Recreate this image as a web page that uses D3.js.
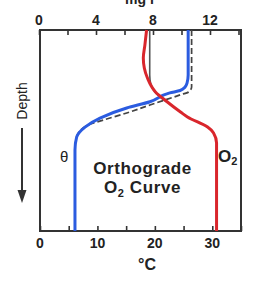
<!DOCTYPE html>
<html>
<head>
<meta charset="utf-8">
<script src="https://cdn.jsdelivr.net/npm/d3@7"></script>
<style>
  html, body { margin: 0; padding: 0; background: #fff; }
  svg { display: block; font-family: "Liberation Sans", Arial, Helvetica, sans-serif; }
</style>
</head>
<body>
<svg id="chart" width="262" height="282"></svg>
<script>
// ---- data ----
const tempTicks = [0, 10, 20, 30];
const o2Ticks = [0, 4, 8, 12];

// potential temperature θ (°C, bottom axis)
const tempDepth  = [0, 22.4, 26.4, 28.4, 30.1, 31.3, 35.7, 38.8, 43.8, 48.3, 53.2, 59.7, 100];
const tempValues = [25.8, 25.8, 25.6, 25.25, 24.4, 22.6, 19.15, 15.1, 10.45, 7.84, 6.39, 6.09, 6.09];

// dashed temperature profile (°C)
const dashDepth  = [0, 28.4, 30.8, 32.3, 37.3, 41.3, 44.8, 47.3, 50.2, 54.7, 59.7, 100];
const dashValues = [26.4, 26.4, 25.9, 24.4, 19.15, 15.1, 11.0, 8.36, 6.97, 6.27, 6.1, 6.1];

// dissolved O2 (mg l-1, top axis)
const o2Depth  = [0, 7.5, 13.9, 18.9, 23.9, 30.8, 35.8, 40.8, 43.3, 48.3, 51.2, 56.2, 100];
const o2Values = [7.55, 7.43, 7.32, 7.39, 7.61, 8.17, 9.01, 9.93, 10.42, 11.83, 12.25, 12.46, 12.46];

// thin saturation O2 line (mg l-1)
const satDepth  = [0, 22.4, 27, 31, 35, 36];
const satValues = [7.77, 7.77, 7.85, 8.15, 8.8, 9.0];

// ---- layout ----
const svg = d3.select("#chart");
const box = { left: 40, right: 241, top: 30, bottom: 231 };

const xTemp = d3.scaleLinear().domain([0, 35]).range([box.left, box.right]);
const xO2 = d3.scaleLinear().domain([0, 14]).range([39, 238.5]);
const yDepth = d3.scaleLinear().domain([0, 100]).range([box.top, box.bottom]);

const ink = "#333";

// frame
svg.append("rect")
  .attr("x", box.left).attr("y", box.top)
  .attr("width", box.right - box.left).attr("height", box.bottom - box.top)
  .attr("fill", "none").attr("stroke", ink).attr("stroke-width", 2);

// top axis (mg l-1), ticks inward
const topAxis = d3.axisTop(xO2).tickValues(d3.range(0, 15, 2)).tickSize(-5).tickFormat("");
const gTop = svg.append("g").attr("transform", `translate(0,${box.top})`).call(topAxis);
gTop.select(".domain").remove();
gTop.selectAll(".tick line").attr("stroke", ink).attr("stroke-width", 1.6);
svg.append("g").selectAll("text").data(o2Ticks).join("text")
  .attr("x", d => xO2(d)).attr("y", 25)
  .attr("text-anchor", "middle").attr("font-size", 14).attr("font-weight", "bold").attr("fill", "#222")
  .text(d => d);

// bottom axis (°C), ticks inward
const botAxis = d3.axisBottom(xTemp).tickValues(d3.range(0, 36, 5)).tickSize(-5).tickFormat("");
const gBot = svg.append("g").attr("transform", `translate(0,${box.bottom})`).call(botAxis);
gBot.select(".domain").remove();
gBot.selectAll(".tick line").attr("stroke", ink).attr("stroke-width", 1.6);
svg.append("g").selectAll("text").data(tempTicks).join("text")
  .attr("x", d => xTemp(d)).attr("y", 248)
  .attr("text-anchor", "middle").attr("font-size", 14).attr("font-weight", "bold").attr("fill", "#222")
  .text(d => d);

// axis titles
svg.append("text").attr("x", 147).attr("y", 270).attr("text-anchor", "middle")
  .attr("font-size", 16).attr("font-weight", "bold").attr("fill", "#222").text("°C");
const mg = svg.append("text").attr("x", 125).attr("y", 4)
  .attr("font-size", 14).attr("font-weight", "bold").attr("fill", "#222");
mg.append("tspan").text("mg l");
mg.append("tspan").attr("font-size", 9).attr("dy", -5).text("-1");

// Depth label + arrow
svg.append("text").attr("transform", "translate(27,101) rotate(-90)")
  .attr("text-anchor", "middle").attr("font-size", 14).attr("fill", "#222").text("Depth");
svg.append("line").attr("x1", 22).attr("x2", 22).attr("y1", 128).attr("y2", 195)
  .attr("stroke", ink).attr("stroke-width", 2);
svg.append("path").attr("d", "M17.5,190 L26.5,190 L22,203 Z").attr("fill", ink);

// lines
const line = (xs, dep, vals) => d3.line()
  .x((d, i) => xs(vals[i])).y((d, i) => yDepth(dep[i]))
  .curve(d3.curveMonotoneY)(dep);

svg.append("path").attr("d", line(xO2, satDepth, satValues))
  .attr("fill", "none").attr("stroke", "#555").attr("stroke-width", 1.6);
svg.append("path").attr("d", line(xTemp, dashDepth, dashValues))
  .attr("fill", "none").attr("stroke", "#444").attr("stroke-width", 1.7).attr("stroke-dasharray", "6,3");
svg.append("path").attr("d", line(xTemp, tempDepth, tempValues))
  .attr("fill", "none").attr("stroke", "#2b5ce0").attr("stroke-width", 3);
svg.append("path").attr("d", line(xO2, o2Depth, o2Values))
  .attr("fill", "none").attr("stroke", "#d9262c").attr("stroke-width", 3);

// annotations
svg.append("text").attr("x", 60).attr("y", 162).attr("font-size", 15).attr("fill", "#222").text("θ");
const o2lab = svg.append("text").attr("x", 218).attr("y", 162).attr("font-size", 17).attr("font-weight", "bold").attr("fill", "#222");
o2lab.append("tspan").text("O");
o2lab.append("tspan").attr("font-size", 11).attr("dy", 3).text("2");

svg.append("text").attr("x", 142.5).attr("y", 174).attr("text-anchor", "middle")
  .attr("font-size", 17).attr("font-weight", "bold").attr("letter-spacing", 0.6).attr("fill", "#222").text("Orthograde");
const c2 = svg.append("text").attr("x", 142.5).attr("y", 193).attr("text-anchor", "middle")
  .attr("font-size", 17).attr("font-weight", "bold").attr("letter-spacing", 0.6).attr("fill", "#222");
c2.append("tspan").text("O");
c2.append("tspan").attr("font-size", 11).attr("dy", 4).text("2");
c2.append("tspan").attr("dy", -4).text(" Curve");
</script>
</body>
</html>
